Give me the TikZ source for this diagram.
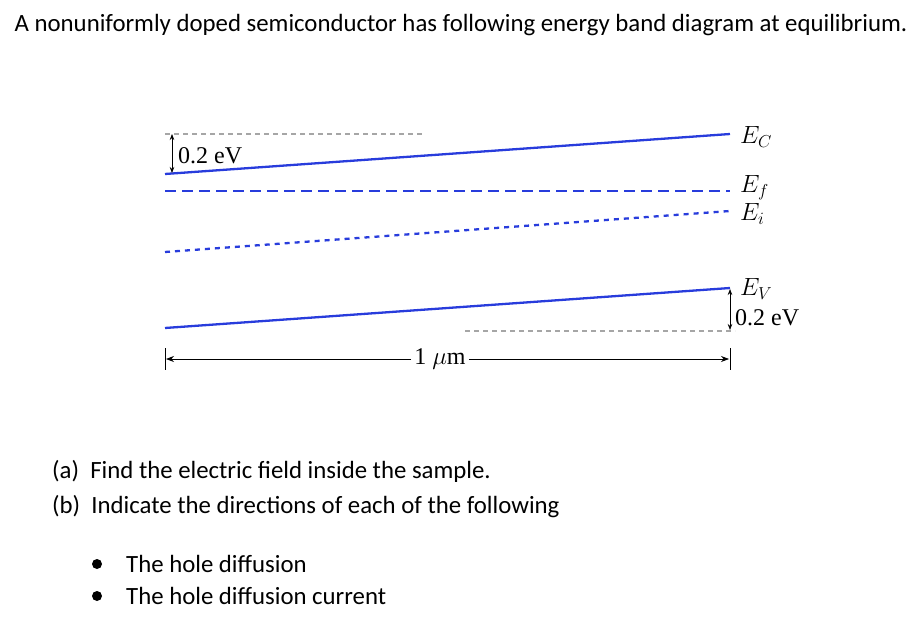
\documentclass[tikz,border=0pt]{standalone}
\usepackage{fontspec}
\setmainfont{Carlito}
\newfontfamily\tms{Liberation Serif}
\usetikzlibrary{arrows.meta}
\begin{document}
\begin{tikzpicture}[x=1pt,y=-1pt,
band/.style={draw={rgb,255:red,40;green,60;blue,220},line width=2.3pt},
ref/.style={draw=gray!70,dash pattern=on 5pt off 4pt,line width=1.1pt},
dim/.style={draw=black,line width=0.7pt,{Stealth[length=6pt]}-{Stealth[length=6pt]}},
lab/.style={font=\tms\fontsize{24}{26}\selectfont,anchor=west,inner sep=0},
txt/.style={font=\fontsize{24.8}{28}\selectfont,anchor=west,inner sep=0}]
\useasboundingbox (0,0) rectangle (922,626);
\node[txt,anchor=center] (title) at (461,25) {A nonuniformly doped semiconductor has following energy band diagram at equilibrium.};
\coordinate (c1) at (165,174); \coordinate (c2) at (730,134);
\coordinate (f1) at (165,191); \coordinate (f2) at (730,191);
\coordinate (i1) at (165,252); \coordinate (i2) at (730,211);
\coordinate (v1) at (165,328); \coordinate (v2) at (730,288);
\draw[ref] (165,134) -- (425,134);
\draw[ref] (465,331) -- (735,331);
\draw[band] (c1) -- (c2);
\draw[band,dash pattern=on 11pt off 6pt] (f1) -- (f2);
\draw[band,dash pattern=on 5pt off 5pt] (i1) -- (i2);
\draw[band] (v1) -- (v2);
\coordinate (a1) at (172,134); \coordinate (a2) at (172,173);
\draw[dim] (a1) -- (a2);
\coordinate (b1) at (730,289); \coordinate (b2) at (730,330);
\draw[dim] (b1) -- (b2);
\node[lab] (l1) at (178,156) {0.2 eV};
\node[lab] (l2) at (735,318) {0.2 eV};
\node[lab] (ec) at (740,137) {$E_C$};
\node[lab] (ef) at (740,188) {$E_f$};
\node[lab] (ei) at (740,214) {$E_i$};
\node[lab] (ev) at (740,289) {$E_V$};
\node[lab,anchor=center,fill=white,inner sep=3pt] (um) at (440,359) {1 $\mu$m};
\draw[line width=0.9pt] (165,348) -- (165,370) (730,348) -- (730,370);
\draw[line width=0.7pt,-{Stealth[length=8pt]}] (um.west) -- (166,359);
\draw[line width=0.7pt,-{Stealth[length=8pt]}] (um.east) -- (729,359);
\node[txt] (qa) at (52,471) {(a)\ \ Find the electric field inside the sample.};
\node[txt] (qb) at (52,507) {(b)\ \ Indicate the directions of each of the following};
\node[txt] (b1t) at (126,564) {The hole diffusion};
\node[txt] (b2t) at (126,596) {The hole diffusion current};
\fill (97,564) circle (5pt) (97,596) circle (5pt);
\end{tikzpicture}
\end{document}
